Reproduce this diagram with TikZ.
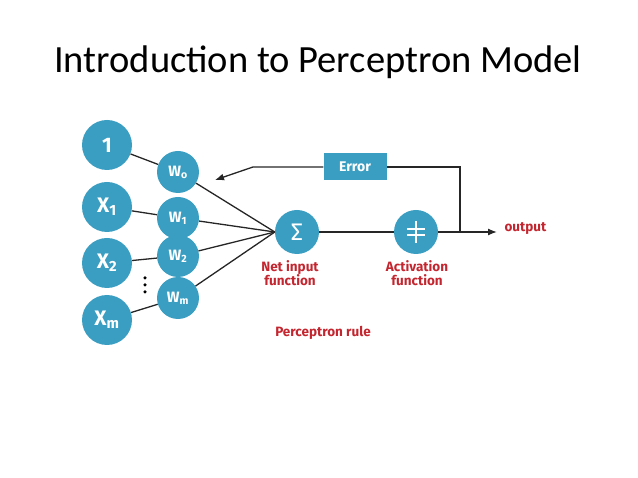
\documentclass[tikz,border=0pt]{standalone}
\usepackage{fontspec}
\usetikzlibrary{arrows.meta}
\setmainfont{Carlito}
\newfontfamily\diag{Fira Sans}
\definecolor{teal1}{HTML}{3A9EC2}
\definecolor{red1}{HTML}{C3262F}
\begin{document}
\begin{tikzpicture}[x=1pt,y=-1pt,
  inp/.style={circle,fill=teal1,minimum size=50pt,inner sep=0pt,text=white,font=\diag\bfseries\fontsize{21}{21}\selectfont},
  wt/.style={circle,fill=teal1,minimum size=42pt,inner sep=0pt,text=white,font=\diag\bfseries\fontsize{15}{15}\selectfont},
  fn/.style={circle,fill=teal1,minimum size=44pt,inner sep=0pt,text=white,font=\diag\fontsize{24}{24}\selectfont},
  lbl/.style={text=red1,font=\diag\bfseries\fontsize{13.5}{14}\selectfont,align=center},
  ln/.style={line width=1.3pt,black!85},
  tip/.style={-{Latex[length=9pt,width=7pt]}},
  dot/.style={circle,fill=black,inner sep=0pt,minimum size=3.5pt}]
\useasboundingbox (0,0) rectangle (638,478);
\node at (318,62) {\fontsize{38.5}{40}\selectfont Introduction to Perceptron Model};
\node[inp] (i0) at (107,145) {1};
\node[inp] (i1) at (107,207) {X\textsubscript{1}};
\node[inp] (i2) at (107,263) {X\textsubscript{2}};
\node[inp] (im) at (107,320) {X\textsubscript{m}};
\node[wt] (w0) at (178,172) {W\textsubscript{o}};
\node[wt] (w1) at (178,218) {W\textsubscript{1}};
\node[wt] (w2) at (178,256) {W\textsubscript{2}};
\node[wt] (wm) at (178,298) {W\textsubscript{m}};
\node[fn] (s) at (297,232) {Σ};
\node[fn] (a) at (416,232) {};
\draw[white,line width=1.3pt] (a.center)+(0,-11)--+(0,11) (a.center)+(-9,-3)--+(9,-3) (a.center)+(-9,3)--+(9,3);
\node[fill=teal1,minimum width=63pt,minimum height=27pt,text=white,font=\diag\bfseries\fontsize{14}{14}\selectfont] (e) at (355,167) {Error};
\node[dot] (d1) at (145,278) {};
\node[dot] (d2) at (145,285) {};
\node[dot] (d3) at (145,292) {};
\foreach \u/\v in {i0/w0,i1/w1,i2/w2,im/wm} \draw[ln] (\u)--(\v);
\foreach \v in {w0,w1,w2,wm} \draw[ln] (\v)--(s.west);
\draw[ln] (s)--(a);
\coordinate (j) at (460,232);
\coordinate (o) at (497,232);
\coordinate (t) at (215,180);
\draw[ln,tip] (a)--(o);
\node[lbl,anchor=west] at (501,229) {output};
\draw[ln] (j)|-(e.east);
\draw[ln,tip] (e.west)--(253,167)--(t);
\node[lbl] at (290,273) {Net input\\function};
\node[lbl] at (417,273) {Activation\\function};
\node[lbl] at (323,333) {Perceptron rule};
\end{tikzpicture}
\end{document}
